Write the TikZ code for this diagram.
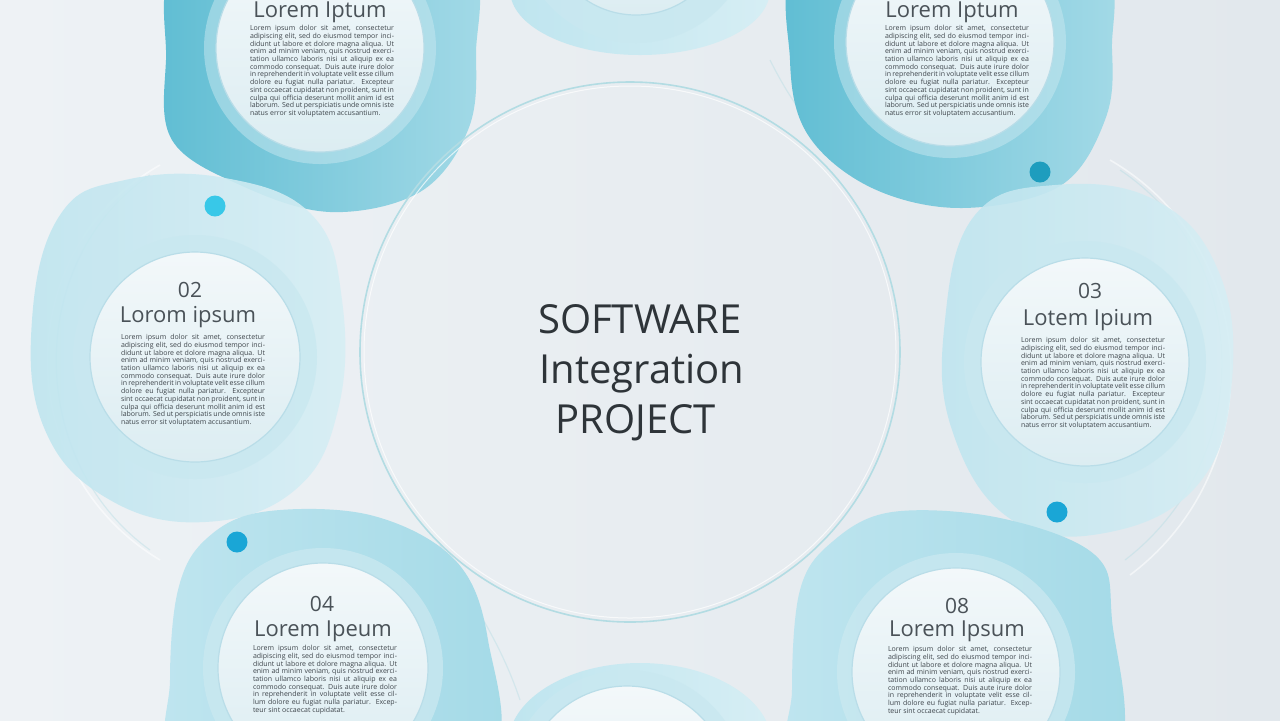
\documentclass[tikz,border=0pt]{standalone}
\usepackage{fontspec}
\setmainfont{Open Sans}
\definecolor{bgA}{HTML}{EEF2F5}
\definecolor{bgB}{HTML}{E2E8ED}
\definecolor{tealA}{HTML}{5FBDD3}
\definecolor{tealB}{HTML}{A4DAE7}
\definecolor{paleA}{HTML}{BFE5EF}
\definecolor{paleB}{HTML}{D6EEF4}
\definecolor{halo}{HTML}{C9E8F0}
\definecolor{discA}{HTML}{F3F8FA}
\definecolor{discB}{HTML}{DCEDF2}
\definecolor{discrim}{HTML}{B9DDE8}
\definecolor{ink}{HTML}{2E3439}
\definecolor{labelink}{HTML}{4A5258}
\definecolor{bodyink}{HTML}{3E454B}
\definecolor{ringline}{HTML}{B3DCE3}
\definecolor{dotA}{HTML}{38C8E8}
\definecolor{dotB}{HTML}{1AA6D6}
\definecolor{dotC}{HTML}{1E9DBE}
\newcommand\fillertext{Lorem ipsum dolor sit amet, consectetur adipiscing elit, sed do eiusmod tempor incididunt ut labore et dolore magna aliqua. Ut enim ad minim veniam, quis nostrud exercitation ullamco laboris nisi ut aliquip ex ea commodo consequat. Duis aute irure dolor in reprehenderit in voluptate velit esse cillum dolore eu fugiat nulla pariatur. Excepteur sint occaecat cupidatat non proident, sunt in culpa qui officia deserunt mollit anim id est laborum. Sed ut perspiciatis unde omnis iste natus error sit voluptatem accusantium.}
\newcommand\shorttext{Lorem ipsum dolor sit amet, consectetur adipiscing elit, sed do eiusmod tempor incididunt ut labore et dolore magna aliqua. Ut enim ad minim veniam, quis nostrud exercitation ullamco laboris nisi ut aliquip ex ea commodo consequat. Duis aute irure dolor in reprehenderit in voluptate velit esse cillum dolore eu fugiat nulla pariatur. Excepteur sint occaecat cupidatat.}
\tikzset{
  disc/.style={top color=discA, bottom color=discB, draw=discrim, line width=0.6pt},
  halodisc/.style={fill=halo, fill opacity=0.8},
  tealblob/.style={left color=tealA, right color=tealB},
  paleblob/.style={left color=paleA, right color=paleB},
  numtxt/.style={anchor=base, text=labelink, font=\fontsize{10.5}{12}\selectfont, inner sep=0pt},
  labtxt/.style={anchor=base, text=labelink, font=\fontsize{11}{13}\selectfont, inner sep=0pt},
  bodytxt/.style={anchor=north, text=bodyink, text width=72pt, align=justify, inner sep=0pt,
     font=\fontsize{3.5}{3.85}\selectfont},
  titletxt/.style={anchor=base, text=ink, font=\fontsize{20}{24}\selectfont, inner sep=0pt},
  faint/.style={draw=ringline, line width=0.6pt},
  faintw/.style={draw=white, line width=0.8pt, opacity=0.55},
  dot/.style={circle, minimum size=10.5pt, inner sep=0pt}
}
\begin{document}
\begin{tikzpicture}[x=0.5pt,y=0.5pt]
\useasboundingbox (0,0) rectangle (1280,-720);
\clip (0,0) rectangle (1280,-720);
% background
\shade[left color=bgA, right color=bgB] (0,0) rectangle (1280,-720);

% faint outer curves
\draw[faintw] (160,-165) .. controls (10,-250) and (10,-470) .. (160,-560);
\draw[faint, opacity=0.4] (150,-175) .. controls (25,-260) and (25,-460) .. (150,-550);
\draw[faintw] (1110,-160) .. controls (1265,-250) and (1270,-470) .. (1130,-575);
\draw[faint, opacity=0.4] (1120,-170) .. controls (1255,-260) and (1255,-460) .. (1125,-560);
\draw[faint, opacity=0.4] (770,-60) .. controls (800,-120) and (830,-150) .. (880,-190);
\draw[faint, opacity=0.4] (440,-545) .. controls (470,-600) and (500,-640) .. (520,-700);

% blobs
\shade[tealblob] plot[smooth cycle, tension=0.6] coordinates {(180,40) (166,-60) (172,-140) (240,-185) (330,-212) (420,-192) (468,-130) (476,-55) (465,40) (320,60)};
\shade[tealblob] plot[smooth cycle, tension=0.6] coordinates {(802,40) (790,-60) (808,-135) (872,-188) (962,-208) (1060,-186) (1105,-120) (1112,-50) (1098,40) (950,60)};
\shade[paleblob, opacity=0.9] plot[smooth cycle, tension=0.7] coordinates {(60,-215) (32,-320) (45,-430) (110,-500) (205,-522) (295,-490) (338,-410) (342,-300) (312,-215) (225,-178) (125,-180)};
\shade[paleblob, opacity=0.9] plot[smooth cycle, tension=0.7] coordinates {(975,-215) (945,-320) (952,-430) (1012,-520) (1110,-532) (1200,-482) (1232,-380) (1218,-270) (1155,-200) (1055,-185)};
\shade[left color=paleA, right color=tealB] plot[smooth cycle, tension=0.6] coordinates {(178,-590) (170,-680) (178,-760) (320,-780) (488,-760) (488,-640) (455,-560) (370,-515) (262,-512) (205,-540)};
\shade[left color=paleA, right color=tealB] plot[smooth cycle, tension=0.6] coordinates {(800,-590) (792,-690) (800,-760) (955,-780) (1113,-760) (1112,-620) (1095,-555) (1000,-518) (892,-512) (832,-542)};
\shade[paleblob] (640,10) ellipse (130 and 65);
\shade[paleblob] (640,-745) ellipse (132 and 82);

% central ring
\draw[faint, line width=0.8pt] (630,-352) circle (270);
\draw[white, line width=0.5pt, opacity=0.7] (630,-352) circle (266);

% halos and discs
\fill[halodisc, fill opacity=0.5] (320,-48) circle (116);
\fill[halodisc, fill opacity=0.5] (950,-42) circle (116);
\fill[halodisc] (195,-357) circle (122);
\fill[halodisc] (1085,-362) circle (121);
\fill[halodisc] (323,-668) circle (120);
\fill[halodisc] (956,-672) circle (119);
\fill[halodisc] (636,75) circle (118);
\fill[halodisc] (627,-790) circle (120);

\shade[disc] (320,-48) circle (104);
\shade[disc] (950,-42) circle (104);
\shade[disc] (195,-357) circle (105);
\shade[disc] (1085,-362) circle (104);
\shade[disc] (323,-668) circle (105);
\shade[disc] (956,-672) circle (104);
\shade[disc] (636,75) circle (90);
\shade[disc] (627,-790) circle (104);

% dots
\node[dot, fill=dotA] (d1) at (215,-206) {};
\node[dot, fill=dotB] (d2) at (237,-542) {};
\node[dot, fill=dotC] (d3) at (1040,-172) {};
\node[dot, fill=dotB] (d4) at (1057,-512) {};

% centre title
\node[titletxt] (t1) at (640,-333) {SOFTWARE};
\node[titletxt] (t2) at (642,-383) {Integration};
\node[titletxt] (t3) at (636,-433) {PROJECT};

% top-left
\node[labtxt] (tlL) at (320,-17) {Lorem Iptum};
\node[bodytxt] (tlB) at (322,-25) {\fillertext};
% top-right
\node[labtxt] (trL) at (952,-17) {Lorem Iptum};
\node[bodytxt] (trB) at (957,-25) {\fillertext};
% left
\node[numtxt] (lN) at (190,-297) {02};
\node[labtxt] (lL) at (188,-322) {Lorom ipsum};
\node[bodytxt] (lB) at (193,-334) {\fillertext};
% right
\node[numtxt] (rN) at (1090,-298) {03};
\node[labtxt] (rL) at (1088,-325) {Lotem Ipium};
\node[bodytxt] (rB) at (1093,-337) {\fillertext};
% bottom-left
\node[numtxt] (blN) at (322,-611) {04};
\node[labtxt] (blL) at (323,-636) {Lorem Ipeum};
\node[bodytxt] (blB) at (325,-645) {\shorttext};
% bottom-right
\node[numtxt] (brN) at (957,-613) {08};
\node[labtxt] (brL) at (957,-636) {Lorem Ipsum};
\node[bodytxt] (brB) at (960,-646) {\shorttext};
\end{tikzpicture}
\end{document}
